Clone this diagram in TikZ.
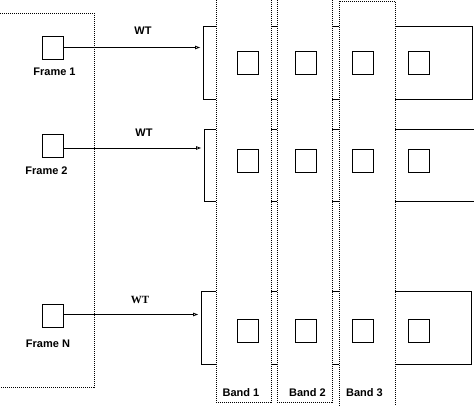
\documentclass[tikz,border=0pt]{standalone}
\usepackage{fontspec}
\setmainfont{Liberation Sans}
\newfontfamily\timesfont{Liberation Serif}
\usetikzlibrary{arrows.meta}

\tikzset{
  cell/.style={draw,line width=0.8pt,minimum width=21pt,minimum height=23pt,inner sep=0pt},
  rowbox/.style={draw,line width=0.8pt,inner sep=0pt},
  band/.style={draw,fill=white,dash pattern=on 1pt off 1pt,line width=0.8pt,inner sep=0pt},
  caption/.style={font=\fontsize{11}{13}\selectfont\bfseries,inner sep=0pt},
  wt/.style={line width=0.8pt,-{Triangle[open,length=5pt,width=3.5pt]},shorten >=2.5pt}
}

\begin{document}
\begin{tikzpicture}[x=1pt,y=-1pt]
    \useasboundingbox (0,0) rectangle (474,405);
    \clip (0,0) rectangle (474,405);
    % frames
    \path ( 44.5, 200) node [band,minimum width=99,minimum height=374] (frames) {};
    \path ( 52.5, 47.5) node [cell] (frame1) {};
    \path ( 52.5, 146) node [cell] (frame2) {};
    \path ( 52.5, 316) node [cell] (frameN) {};
    \path ( 54.5, 72) node [caption] (frame1label) {Frame 1};
    \path ( 46.5, 171) node [caption] (frame2label) {Frame 2};
    \path ( 48, 343.5) node [caption] (frameNlabel) {Frame N};
    % rows
    \path (337.5, 62.5) node [rowbox,minimum width=269,minimum height=73] (row1) {};
    \path (347, 165.25) node [rowbox,minimum width=286,minimum height=72.5] (row2) {};
    \path (336, 327.5) node [rowbox,minimum width=270,minimum height=73] (row3) {};
    % bands
    \path (243.5, 196) node [band,minimum width=55,minimum height=412] (band1) {};
    \path (304.5, 196) node [band,minimum width=55,minimum height=412] (band2) {};
    \path (367, 208) node [band,minimum width=56,minimum height=414] (band3) {};
    \path (241, 393) node [caption] (band1label) {Band 1};
    \path (307.5, 393) node [caption] (band2label) {Band 2};
    \path (364.5, 393) node [caption] (band3label) {Band 3};
    % cells
    \foreach \r/\y in {1/62.5,2/161,3/331}
      \foreach \c/\x in {1/247.5,2/305.5,3/363,4/419}
        \path (\x,\y) node [cell] (cell\r\c) {};
    % transforms
    \draw [wt] (frame1) -- (frame1 -| row1.west);
    \draw [wt] (frame2.east |- 0,148) -- (row2.west |- 0,148);
    \draw [wt] (frameN.east |- 0,314.5) -- (row3.west |- 0,314.5);
    \path (143, 31) node [caption] (wt1) {WT};
    \path (144, 133) node [caption] (wt2) {WT};
    \path (140, 299.5) node [caption,font=\fontsize{11}{13}\timesfont\bfseries] (wtN) {WT};
\end{tikzpicture}
\end{document}
